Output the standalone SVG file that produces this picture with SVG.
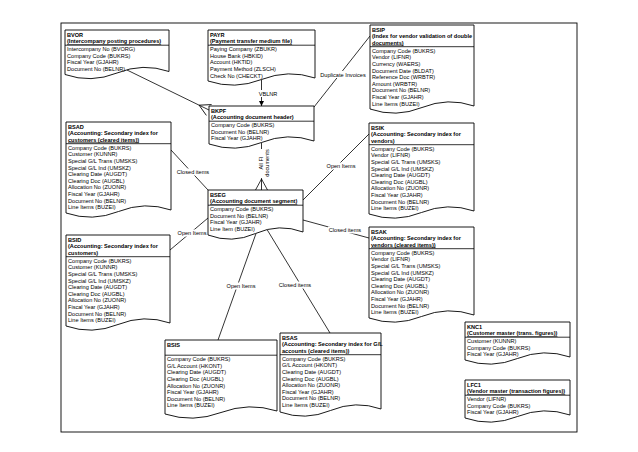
<svg xmlns="http://www.w3.org/2000/svg" width="638" height="452" viewBox="0 0 638 452">
<defs>
<style>
.box{fill:#fff;stroke:#000;stroke-width:0.9}
.dv{stroke:#000;stroke-width:0.8}
.ln{stroke:#000;stroke-width:0.8;fill:none}
text{font-family:"Liberation Sans",Arial,sans-serif;font-size:5.6px;fill:#000}
.b{font-weight:bold}
.u{text-decoration:underline}
.lb{text-anchor:middle}
.bg{fill:#fff}
</style>
<marker id="crow" viewBox="-12 -7 13 14" refX="0" refY="0" markerWidth="13" markerHeight="14" markerUnits="userSpaceOnUse" orient="auto">
<path d="M-11,0 L0,-6 M-11,0 L0,6" fill="none" stroke="#000" stroke-width="0.8"/>
</marker>
<marker id="arr" viewBox="0 0 10 10" refX="10" refY="5" markerWidth="5" markerHeight="5" markerUnits="userSpaceOnUse" orient="auto">
<path d="M0,0 L10,5 L0,10 z" fill="#000"/>
</marker>
</defs>
<rect x="0" y="0" width="638" height="452" fill="#fff"/>
<rect x="61" y="23" width="516" height="409" fill="none" stroke="#000" stroke-width="0.9"/>

<g id="connectors">
<line class="ln" x1="127" y1="70" x2="209" y2="110" marker-end="url(#crow)"/>
<line class="ln" x1="261.5" y1="79.5" x2="261.5" y2="106" marker-end="url(#arr)"/>
<rect class="bg" x="259" y="90" width="19" height="7"/>
<text class="lb" x="268" y="96">VBLNR</text>
<line class="ln" x1="314" y1="107" x2="370" y2="36"/>
<rect class="bg" x="320" y="71" width="47" height="7"/>
<text class="lb" x="343" y="77">Duplicate Invoices</text>
<line class="ln" x1="261.5" y1="142.5" x2="261.5" y2="190" marker-end="url(#crow)"/>
<rect class="bg" x="258" y="149" width="12" height="29"/>
<g transform="translate(264,163) rotate(-90)">
<text class="lb" x="0" y="-1">All FI</text>
<text class="lb" x="0" y="5.2">documents</text>
</g>
<line class="ln" x1="208" y1="190" x2="171" y2="150"/>
<rect class="bg" x="176" y="168.5" width="34" height="7"/>
<text class="lb" x="193" y="174">Closed items</text>
<line class="ln" x1="303" y1="200" x2="369" y2="134"/>
<rect class="bg" x="326" y="162.5" width="30" height="7"/>
<text class="lb" x="341" y="168">Open Items</text>
<line class="ln" x1="208" y1="218" x2="170" y2="250"/>
<rect class="bg" x="177" y="229.5" width="30" height="7"/>
<text class="lb" x="192" y="235">Open Items</text>
<line class="ln" x1="303" y1="220" x2="369" y2="238"/>
<rect class="bg" x="328" y="226.5" width="34" height="7"/>
<text class="lb" x="345" y="232">Closed items</text>
<line class="ln" x1="256" y1="233.5" x2="218" y2="340"/>
<rect class="bg" x="226" y="282.5" width="30" height="7"/>
<text class="lb" x="241" y="288">Open Items</text>
<line class="ln" x1="267" y1="229.5" x2="330" y2="333"/>
<rect class="bg" x="278" y="281.5" width="34" height="7"/>
<text class="lb" x="295" y="287">Closed items</text>
</g>

<g id="BVOR">
<path class="box" d="M65,30 H169 V71.5 Q143,62.5 117,73 Q91,83.5 65,74.5 Z"/>
<line class="dv" x1="65" y1="45.2" x2="169" y2="45.2"/>
<text class="b" x="67" y="36.5">BVOR</text>
<text class="b u" x="67" y="43">(Intercompany posting procedures)</text>
<text x="67" y="51.2">Intercompany No (BVORG)</text>
<text x="67" y="57.8">Company Code (BUKRS)</text>
<text x="67" y="64.4">Fiscal Year (GJAHR)</text>
<text x="67" y="71">Document No (BELNR)</text>
</g>

<g id="PAYR">
<path class="box" d="M208,30 H315 V78 Q288.3,69 261.5,79.5 Q234.8,90 208,81 Z"/>
<line class="dv" x1="208" y1="45.2" x2="315" y2="45.2"/>
<text class="b" x="210" y="36.5">PAYR</text>
<text class="b u" x="210" y="43">(Payment transfer medium file)</text>
<text x="210" y="51.2">Paying Company (ZBUKR)</text>
<text x="210" y="57.8">House Bank (HBKID)</text>
<text x="210" y="64.4">Account (HKTID)</text>
<text x="210" y="71">Payment Method (ZLSCH)</text>
<text x="210" y="77.6">Check No (CHECKT)</text>
</g>

<g id="BSIP">
<path class="box" d="M370,25 H474 V106 Q448,97 422,107.5 Q396,118 370,109 Z"/>
<line class="dv" x1="370" y1="46.7" x2="474" y2="46.7"/>
<text class="b" x="372" y="31.5">BSIP</text>
<text class="b" x="372" y="38">(Index for vendor validation of double</text>
<text class="b u" x="372" y="44.5">documents)</text>
<text x="372" y="52.7">Company Code (BUKRS)</text>
<text x="372" y="59.3">Vendor (LIFNR)</text>
<text x="372" y="65.9">Currency (WAERS)</text>
<text x="372" y="72.5">Document Date (BLDAT)</text>
<text x="372" y="79.1">Reference Doc (WRBTR)</text>
<text x="372" y="85.7">Amount (WRBTR)</text>
<text x="372" y="92.3">Document No (BELNR)</text>
<text x="372" y="98.9">Fiscal Year (GJAHR)</text>
<text x="372" y="105.5">Line Items (BUZEI)</text>
</g>

<g id="BKPF">
<path class="box" d="M209,106 H314 V141 Q287.8,132 261.5,142.5 Q235.3,153 209,144 Z"/>
<line class="dv" x1="209" y1="121.2" x2="314" y2="121.2"/>
<text class="b" x="211" y="112.5">BKPF</text>
<text class="b" x="211" y="119">(Accounting document header)</text>
<text x="211" y="127.2">Company Code (BUKRS)</text>
<text x="211" y="133.8">Document No (BELNR)</text>
<text x="211" y="140.4">Fiscal Year (GJAHR)</text>
</g>

<g id="BSAD">
<path class="box" d="M66,122 H171 V210 Q144.8,201 118.5,211.5 Q92.3,222 66,213 Z"/>
<line class="dv" x1="66" y1="143.7" x2="171" y2="143.7"/>
<text class="b" x="68" y="128.5">BSAD</text>
<text class="b" x="68" y="135">(Accounting: Secondary index for</text>
<text class="b u" x="68" y="141.5">customers (cleared items))</text>
<text x="68" y="149.7">Company Code (BUKRS)</text>
<text x="68" y="156.3">Customer (KUNNR)</text>
<text x="68" y="162.9">Special G/L Trans (UMSKS)</text>
<text x="68" y="169.5">Special G/L Ind (UMSKZ)</text>
<text x="68" y="176.1">Clearing Date (AUGDT)</text>
<text x="68" y="182.7">Clearing Doc (AUGBL)</text>
<text x="68" y="189.3">Allocation No (ZUONR)</text>
<text x="68" y="195.9">Fiscal Year (GJAHR)</text>
<text x="68" y="202.5">Document No (BELNR)</text>
<text x="68" y="209.1">Line Items (BUZEI)</text>
</g>

<g id="BSIK">
<path class="box" d="M369,123 H474 V211 Q447.8,202 421.5,212.5 Q395.3,223 369,214 Z"/>
<line class="dv" x1="369" y1="144.7" x2="474" y2="144.7"/>
<text class="b" x="371" y="129.5">BSIK</text>
<text class="b" x="371" y="136">(Accounting: Secondary index for</text>
<text class="b" x="371" y="142.5">vendors)</text>
<text x="371" y="150.7">Company Code (BUKRS)</text>
<text x="371" y="157.3">Vendor (LIFNR)</text>
<text x="371" y="163.9">Special G/L Trans (UMSKS)</text>
<text x="371" y="170.5">Special G/L Ind (UMSKZ)</text>
<text x="371" y="177.1">Clearing Date (AUGDT)</text>
<text x="371" y="183.7">Clearing Doc (AUGBL)</text>
<text x="371" y="190.3">Allocation No (ZUONR)</text>
<text x="371" y="196.9">Fiscal Year (GJAHR)</text>
<text x="371" y="203.5">Document No (BELNR)</text>
<text x="371" y="210.1">Line Items (BUZEI)</text>
</g>

<g id="BSEG">
<path class="box" d="M208,190 H303 V232 Q279.3,223 255.5,233.5 Q231.8,244 208,235 Z"/>
<line class="dv" x1="208" y1="205.2" x2="303" y2="205.2"/>
<text class="b" x="210" y="196.5">BSEG</text>
<text class="b u" x="210" y="203">(Accounting document segment)</text>
<text x="210" y="211.2">Company Code (BUKRS)</text>
<text x="210" y="217.8">Document No (BELNR)</text>
<text x="210" y="224.4">Fiscal Year (GJAHR)</text>
<text x="210" y="231">Line Item (BUZEI)</text>
</g>

<g id="BSID">
<path class="box" d="M66,235 H170 V323 Q144,314 118,324.5 Q92,335 66,326 Z"/>
<line class="dv" x1="66" y1="256.7" x2="170" y2="256.7"/>
<text class="b" x="68" y="241.5">BSID</text>
<text class="b" x="68" y="248">(Accounting: Secondary index for</text>
<text class="b" x="68" y="254.5">customers)</text>
<text x="68" y="262.7">Company Code (BUKRS)</text>
<text x="68" y="269.3">Customer (KUNNR)</text>
<text x="68" y="275.9">Special G/L Trans (UMSKS)</text>
<text x="68" y="282.5">Special G/L Ind (UMSKZ)</text>
<text x="68" y="289.1">Clearing Date (AUGDT)</text>
<text x="68" y="295.7">Clearing Doc (AUGBL)</text>
<text x="68" y="302.3">Allocation No (ZUONR)</text>
<text x="68" y="308.9">Fiscal Year (GJAHR)</text>
<text x="68" y="315.5">Document No (BELNR)</text>
<text x="68" y="322.1">Line Items (BUZEI)</text>
</g>

<g id="BSAK">
<path class="box" d="M369,227 H474 V315 Q447.8,306 421.5,316.5 Q395.3,327 369,318 Z"/>
<line class="dv" x1="369" y1="248.7" x2="474" y2="248.7"/>
<text class="b" x="371" y="233.5">BSAK</text>
<text class="b" x="371" y="240">(Accounting: Secondary index for</text>
<text class="b u" x="371" y="246.5">vendors (cleared items))</text>
<text x="371" y="254.7">Company Code (BUKRS)</text>
<text x="371" y="261.3">Vendor (LIFNR)</text>
<text x="371" y="267.9">Special G/L Trans (UMSKS)</text>
<text x="371" y="274.5">Special G/L Ind (UMSKZ)</text>
<text x="371" y="281.1">Clearing Date (AUGDT)</text>
<text x="371" y="287.7">Clearing Doc (AUGBL)</text>
<text x="371" y="294.3">Allocation No (ZUONR)</text>
<text x="371" y="300.9">Fiscal Year (GJAHR)</text>
<text x="371" y="307.5">Document No (BELNR)</text>
<text x="371" y="314.1">Line Items (BUZEI)</text>
</g>

<g id="BSIS">
<path class="box" d="M165,340 H277 V411 Q249,402 221,412.5 Q193,423 165,414 Z"/>
<line class="dv" x1="165" y1="355.2" x2="277" y2="355.2"/>
<text class="b" x="167" y="346.5">BSIS</text>
<text x="167" y="361.2">Company Code (BUKRS)</text>
<text x="167" y="367.8">G/L Account (HKONT)</text>
<text x="167" y="374.4">Clearing Date (AUGDT)</text>
<text x="167" y="381">Clearing Doc (AUGBL)</text>
<text x="167" y="387.6">Allocation No (ZUONR)</text>
<text x="167" y="394.2">Fiscal Year (GJAHR)</text>
<text x="167" y="400.8">Document No (BELNR)</text>
<text x="167" y="407.4">Line Items (BUZEI)</text>
</g>

<g id="BSAS">
<path class="box" d="M280,333 H381 V409 Q355.8,400 330.5,410.5 Q305.3,421 280,412 Z"/>
<line class="dv" x1="280" y1="354.7" x2="381" y2="354.7"/>
<text class="b" x="282" y="339.5">BSAS</text>
<text class="b" x="282" y="346">(Accounting: Secondary index for G/L</text>
<text class="b" x="282" y="352.5">accounts (cleared items))</text>
<text x="282" y="360.7">Company Code (BUKRS)</text>
<text x="282" y="367.3">G/L Account (HKONT)</text>
<text x="282" y="373.9">Clearing Date (AUGDT)</text>
<text x="282" y="380.5">Clearing Doc (AUGBL)</text>
<text x="282" y="387.1">Allocation No (ZUONR)</text>
<text x="282" y="393.7">Fiscal Year (GJAHR)</text>
<text x="282" y="400.3">Document No (BELNR)</text>
<text x="282" y="406.9">Line Items (BUZEI)</text>
</g>

<g id="KNC1">
<path class="box" d="M465,322 H570 V357 Q543.8,348 517.5,358.5 Q491.3,369 465,360 Z"/>
<line class="dv" x1="465" y1="337.2" x2="570" y2="337.2"/>
<text class="b" x="467" y="328.5">KNC1</text>
<text class="b u" x="467" y="335">(Customer master (trans. figures))</text>
<text x="467" y="343.2">Customer (KUNNR)</text>
<text x="467" y="349.8">Company Code (BUKRS)</text>
<text x="467" y="356.4">Fiscal Year (GJAHR)</text>
</g>

<g id="LFC1">
<path class="box" d="M465,380 H570 V415 Q543.8,406 517.5,416.5 Q491.3,427 465,418 Z"/>
<line class="dv" x1="465" y1="395.2" x2="570" y2="395.2"/>
<text class="b" x="467" y="386.5">LFC1</text>
<text class="b u" x="467" y="393">(Vendor master (transaction figures))</text>
<text x="467" y="401.2">Vendor (LIFNR)</text>
<text x="467" y="407.8">Company Code (BUKRS)</text>
<text x="467" y="414.4">Fiscal Year (GJAHR)</text>
</g>
</svg>
